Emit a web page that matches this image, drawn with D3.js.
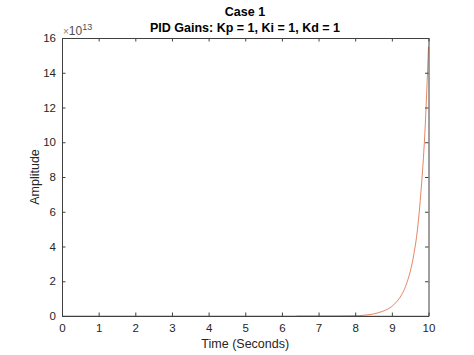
<!DOCTYPE html>
<html>
<head>
<meta charset="utf-8">
<script src="https://cdn.jsdelivr.net/npm/d3@7"></script>
<style>
  body { margin: 0; background: #fff; }
  svg { display: block; font-family: "Liberation Sans", Arial, Helvetica, sans-serif; }
</style>
</head>
<body>
<svg id="chart" width="474" height="355"></svg>
<script>
// Data (amplitude in units of 1e13)
const timeOrange = [0, 2, 4, 6, 7, 7.5, 8, 8.25, 8.5, 8.75, 8.9, 9.0, 9.1, 9.2, 9.3, 9.4, 9.5, 9.6, 9.7, 9.8, 9.9, 10.0];
const ampOrange  = [0, 0, 0, 0, 0.0005, 0.002, 0.015, 0.045, 0.12, 0.27, 0.41, 0.55, 0.75, 1.0, 1.35, 1.85, 2.55, 3.55, 5.0, 7.3, 10.5, 15.5];
const timeBlue = [6.4, 10];
const ampBlue  = [0, 0];
const xTicks = [0, 1, 2, 3, 4, 5, 6, 7, 8, 9, 10];
const yTicks = [0, 2, 4, 6, 8, 10, 12, 14, 16];
const titleLines = ["Case 1", "PID Gains: Kp = 1, Ki = 1, Kd = 1"];

const svg = d3.select("#chart");
const L = 62, R = 428.5, T = 38, B = 316;
const x = d3.scaleLinear().domain([0, 10]).range([L, R]);
const y = d3.scaleLinear().domain([0, 16]).range([B, T]);
const axisColor = "#404040";
const tickLen = 3.5;

svg.append("rect").attr("x", L).attr("y", T).attr("width", R - L).attr("height", B - T).attr("fill", "#fff");

const line = d3.line().x(d => x(d[0])).y(d => y(d[1])).curve(d3.curveMonotoneX);
svg.append("path")
  .datum(timeOrange.map((t, i) => [t, ampOrange[i]]))
  .attr("d", line).attr("fill", "none").attr("stroke", "#E0663A").attr("stroke-width", 0.8);
svg.append("path")
  .datum(timeBlue.map((t, i) => [t, ampBlue[i]]))
  .attr("d", line).attr("fill", "none").attr("stroke", "#0072BD").attr("stroke-width", 0.9).attr("opacity", 0.5);

const fmt = d3.format("d");
const gx = svg.append("g").attr("transform", `translate(0,${B})`)
  .call(d3.axisBottom(x).tickValues(xTicks).tickFormat(fmt).tickSizeInner(-tickLen).tickSizeOuter(0).tickPadding(8));
const gxt = svg.append("g").attr("transform", `translate(0,${T})`)
  .call(d3.axisTop(x).tickValues(xTicks).tickFormat("").tickSizeInner(-tickLen).tickSizeOuter(0));
const gy = svg.append("g").attr("transform", `translate(${L},0)`)
  .call(d3.axisLeft(y).tickValues(yTicks).tickFormat(fmt).tickSizeInner(-tickLen).tickSizeOuter(0).tickPadding(6));
const gyr = svg.append("g").attr("transform", `translate(${R},0)`)
  .call(d3.axisRight(y).tickValues(yTicks).tickFormat("").tickSizeInner(-tickLen).tickSizeOuter(0));

[gx, gxt, gy, gyr].forEach(g => {
  g.selectAll(".domain").attr("stroke", axisColor).attr("stroke-width", 1);
  g.selectAll(".tick line").attr("stroke", axisColor).attr("stroke-width", 1);
  g.selectAll(".tick text").attr("fill", "#262626").attr("font-size", 11.5)
    .attr("font-family", "'Liberation Sans', Arial, sans-serif");
});

// exponent label
const ex = svg.append("text").attr("x", L + 1).attr("y", 35).attr("fill", "#505050")
  .attr("font-size", 12);
ex.append("tspan").attr("fill", "#808080").attr("font-size", 10).text("\u00d7");
ex.append("tspan").text("10");
ex.append("tspan").attr("dy", -5).attr("font-size", 9).text("13");

svg.append("text").attr("x", 245).attr("y", 15.5).attr("text-anchor", "middle")
  .attr("font-weight", "bold").attr("font-size", 12.5).attr("fill", "#000").text(titleLines[0]);
svg.append("text").attr("x", 245).attr("y", 31.5).attr("text-anchor", "middle")
  .attr("font-weight", "bold").attr("font-size", 12.5).attr("fill", "#000").text(titleLines[1]);

svg.append("text").attr("x", (L + R) / 2).attr("y", 348).attr("text-anchor", "middle")
  .attr("font-size", 12.5).attr("fill", "#262626").text("Time (Seconds)");
svg.append("text").attr("transform", `translate(39,${(T + B) / 2}) rotate(-90)`)
  .attr("text-anchor", "middle").attr("font-size", 12.5).attr("fill", "#262626").text("Amplitude");
</script>
</body>
</html>
